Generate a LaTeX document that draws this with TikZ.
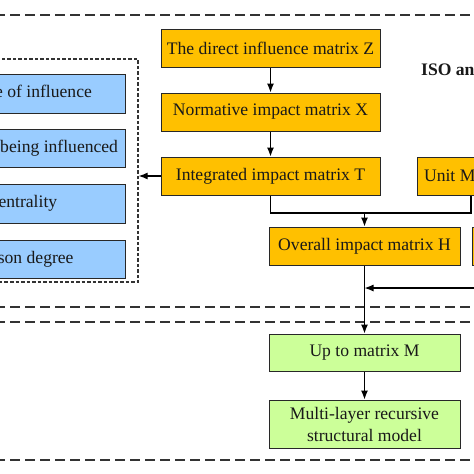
\documentclass[tikz,border=0pt]{standalone}
\usepackage{fontspec}
\setmainfont{Liberation Serif}
\usetikzlibrary{arrows.meta}
\definecolor{orangefill}{RGB}{255,192,0}
\definecolor{bluefill}{RGB}{153,204,255}
\definecolor{greenfill}{RGB}{204,255,153}
\definecolor{edgecol}{RGB}{40,40,40}
\definecolor{txtcol}{RGB}{25,25,25}
\tikzset{
  box/.style={draw=edgecol, line width=1pt, inner sep=0pt, align=center,
    text=txtcol, font=\fontsize{17.6pt}{20pt}\selectfont, minimum height=38pt},
  obox/.style={box, fill=orangefill},
  bbox/.style={box, fill=bluefill, minimum width=206pt},
  gbox/.style={box, fill=greenfill, minimum width=191pt},
  conn/.style={draw=black, line width=1.2pt},
  arr/.style={conn, -{Latex[length=9pt,width=7pt]}},
  longdash/.style={draw=black!80, line width=1.5pt, dash pattern=on 10pt off 5pt},
  shortdash/.style={draw=black!80, line width=1.3pt, dash pattern=on 3.5pt off 2pt},
}
\begin{document}
\begin{tikzpicture}[x=1pt,y=-1pt]
\useasboundingbox (0,0) rectangle (474,474);
\clip (0,0) rectangle (474,474);
% dashed separators
\coordinate (d1l) at (-20,15);  \coordinate (d1r) at (494,15);
\coordinate (d2l) at (-20,307); \coordinate (d2r) at (494,307);
\coordinate (d3l) at (-20,322); \coordinate (d3r) at (494,322);
\coordinate (d4l) at (-20,460); \coordinate (d4r) at (494,460);
\draw[longdash] (d1l) -- (d1r);
\draw[longdash] (d2l) -- (d2r);
\draw[longdash] (d3l) -- (d3r);
\draw[longdash] (d4l) -- (d4r);
% dotted group box
\node[shortdash, minimum width=238pt, minimum height=223pt, inner sep=0pt] (grp) at (19,170.5) {};
% blue boxes
\node[bbox, minimum height=39pt] (b1) at (22,93.5) {Degree of influence};
\node[bbox] (b2) at (22,148) {Degree of being influenced};
\node[bbox, minimum height=39pt] (b3) at (22,203.5) {Centrality};
\node[bbox] (b4) at (22,259) {Reason degree};
% orange boxes
\node[obox, minimum width=219pt] (o1) at (270.5,48) {The direct influence matrix Z};
\node[obox, minimum width=219pt] (o2) at (270.5,112) {Normative impact matrix X};
\node[obox, minimum width=219pt] (o3) at (270.5,176) {Integrated impact matrix T};
\node[obox, minimum width=108pt] (um) at (471,176) {Unit Matrix I};
\node[obox, minimum width=191pt] (ov) at (364.5,246) {Overall impact matrix H};
\node[obox, minimum width=88pt] (rb) at (516,246) {};
% green boxes
\node[gbox, minimum height=37pt] (g1) at (364.5,352.5) {Up to matrix M};
\node[gbox, minimum height=48pt, font=\fontsize{17.6pt}{22pt}\selectfont] (g2) at (364.5,424) {Multi-layer recursive\\structural model};
% title text
\node[anchor=base west, inner sep=0pt, text=txtcol, font=\fontsize{17.6pt}{20pt}\selectfont\bfseries] (iso) at (421,75) {ISO and};
% connectors
\draw[arr] (o1.south) -- (o2.north);
\draw[arr] (o2.south) -- (o3.north);
\draw[arr] (o3.west) -- (o3.west -| grp.east);
\coordinate (mj) at (364.5,213);
\coordinate (rt) at (364.5,288);
\draw[conn] (o3.south) |- (mj) -| (um.south);
\draw[arr] (mj) -- (ov.north);
\draw[arr] (rb.south) |- (rt);
\draw[arr] (ov.south) -- (g1.north);
\draw[arr] (g1.south) -- (g2.north);
\end{tikzpicture}
\end{document}
